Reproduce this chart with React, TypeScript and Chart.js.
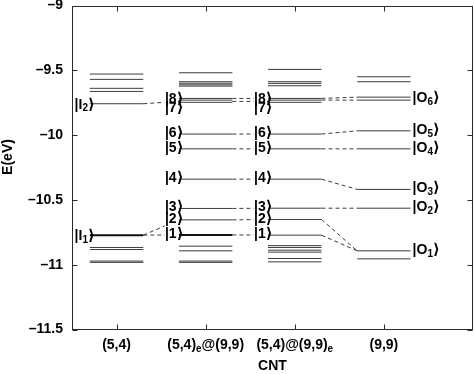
import React, { useEffect, useRef } from 'react';
import { Chart, registerables } from 'chart.js';

Chart.register(...registerables);

// ---------- data ----------
const categories = ['(5,4)', '(5,4)_e@(9,9)', '(5,4)@(9,9)_e', '(9,9)'];
const xTitle = 'CNT';
const yTitle = 'E(eV)';
const yMin = -11.5;
const yMax = -9;
const yStep = 0.5;

// energy levels (eV) of each column
const levels54 = [-9.529, -9.570, -9.639, -9.663, -9.758, -10.772, -10.867, -10.883, -10.972, -10.982];
const levelsE54 = [-9.519, -9.588, -9.600, -9.612, -9.622, -9.717, -9.730, -9.747, -9.992, -10.106, -10.340, -10.566, -10.654, -10.770, -10.857, -10.893, -10.972, -10.982];
const levelsE99 = [-9.493, -9.588, -9.601, -9.619, -9.717, -9.730, -9.747, -9.992, -10.106, -10.340, -10.564, -10.651, -10.772, -10.853, -10.867, -10.888, -10.903, -10.952, -10.978];
const levels99 = [-9.550, -9.588, -9.707, -9.730, -9.967, -10.106, -10.419, -10.564, -10.893, -10.955];

// highlighted (bold) states
const boldLevels54 = [-10.772];
const boldLevelsE54 = [-10.770];

// state labels
const kets54 = ['I_2', 'I_1'];
const ketE54 = [-9.758, -10.772];
const ketsMid = ['8', '7', '6', '5', '4', '3', '2', '1'];
const ketEMid = [-9.717, -9.747, -9.992, -10.106, -10.340, -10.566, -10.654, -10.770];
const kets99 = ['O_6', 'O_5', 'O_4', 'O_3', 'O_2', 'O_1'];
const ketE99 = [-9.72, -9.967, -10.106, -10.419, -10.564, -10.893];

// dashed correlation lines between neighbouring columns
const link1From = [-9.758, -10.772, -10.772];
const link1To = [-9.740, -10.654, -10.770];
const link2From = [-9.717, -9.740, -9.992, -10.106, -10.340, -10.566, -10.654, -10.770];
const link2To = [-9.717, -9.740, -9.992, -10.106, -10.340, -10.564, -10.651, -10.772];
const link3From = [-9.717, -9.730, -9.992, -10.106, -10.340, -10.564, -10.651, -10.772];
const link3To = [-9.707, -9.730, -9.967, -10.106, -10.419, -10.564, -10.893, -10.893];

// ---------- styling ----------
const FF = "'Liberation Sans', 'DejaVu Sans', Arial, sans-serif";
const HW = 0.3; // half width of a level line (x units)
const LABEL_GAP = 0.16; // room for left-side labels (x units)
const LEVEL_COLOR = '#3c3c3c';
const DARK = '#111';
const FRAME = '#2a2a2a';

function levelDataset(col: number, E: number, color: string, width: number) {
  return {
    data: [{ x: col - HW, y: E }, { x: col + HW, y: E }],
    showLine: true,
    borderColor: color,
    borderWidth: width,
    pointRadius: 0,
    pointHoverRadius: 0,
    fill: false,
  };
}

function linkDataset(c1: number, c2: number, from: number, to: number, leftLabels: boolean) {
  const x0 = c1 + HW;
  const x1full = c2 - HW;
  const x1 = leftLabels ? c2 - HW - LABEL_GAP : x1full;
  const yEnd = from + ((to - from) * (x1 - x0)) / (x1full - x0);
  return {
    data: [{ x: x0, y: from }, { x: x1, y: yEnd }],
    showLine: true,
    borderColor: LEVEL_COLOR,
    borderWidth: 1,
    borderDash: [4, 3],
    pointRadius: 0,
    pointHoverRadius: 0,
    fill: false,
  };
}

function buildDatasets() {
  const ds: any[] = [];
  const cols = [levels54, levelsE54, levelsE99, levels99];
  cols.forEach((lv, i) => {
    lv.forEach((E) => {
      const bold = (i === 0 && boldLevels54.includes(E)) || (i === 1 && boldLevelsE54.includes(E));
      ds.push(levelDataset(i + 1, E, bold ? DARK : LEVEL_COLOR, bold ? 2 : 1));
    });
  });
  link1From.forEach((f, k) => ds.push(linkDataset(1, 2, f, link1To[k], true)));
  link2From.forEach((f, k) => ds.push(linkDataset(2, 3, f, link2To[k], true)));
  link3From.forEach((f, k) => ds.push(linkDataset(3, 4, f, link3To[k], false)));
  return ds;
}

function drawKet(ctx: CanvasRenderingContext2D, x: number, y: number, label: string, align: 'left' | 'right') {
  const [name, sub] = label.split('_');
  const main = `bold 14px ${FF}`;
  const small = `bold 10px ${FF}`;
  const ang = `bold 15px 'DejaVu Sans', sans-serif`;
  ctx.font = main;
  const wBar = ctx.measureText('|').width;
  const wName = ctx.measureText(name).width;
  ctx.font = ang;
  const wAng = ctx.measureText('\u27E9').width;
  ctx.font = small;
  const wSub = sub ? ctx.measureText(sub).width : 0;
  const total = wBar + wName + wSub + wAng;
  let cx = align === 'right' ? x - total : x;
  ctx.textAlign = 'left';
  ctx.textBaseline = 'middle';
  ctx.fillStyle = '#000';
  ctx.font = main;
  ctx.fillText('|', cx, y);
  cx += wBar;
  ctx.fillText(name, cx, y);
  cx += wName;
  if (sub) {
    ctx.font = small;
    ctx.fillText(sub, cx, y + 4);
    cx += wSub;
  }
  ctx.font = ang;
  ctx.fillText('\u27E9', cx, y);
}

function drawRich(ctx: CanvasRenderingContext2D, text: string, cx: number, y: number) {
  const parts = text.split(/_(.)/);
  const main = `bold 14px ${FF}`;
  const small = `bold 10px ${FF}`;
  const widths = parts.map((p, i) => {
    ctx.font = i % 2 ? small : main;
    return ctx.measureText(p).width;
  });
  const total = widths.reduce((a, b) => a + b, 0);
  let x = cx - total / 2;
  ctx.textAlign = 'left';
  ctx.textBaseline = 'middle';
  ctx.fillStyle = '#000';
  parts.forEach((p, i) => {
    ctx.font = i % 2 ? small : main;
    ctx.fillText(p, x, i % 2 ? y + 4 : y);
    x += widths[i];
  });
}

const decorPlugin = {
  id: 'decor',
  afterDraw(chart: any) {
    const ctx: CanvasRenderingContext2D = chart.ctx;
    const xs = chart.scales.x;
    const ys = chart.scales.y;
    const a = chart.chartArea;
    ctx.save();
    // frame
    ctx.strokeStyle = FRAME;
    ctx.lineWidth = 1;
    const L = Math.round(a.left) + 0.5;
    const R = Math.round(a.right) - 0.5;
    const T = Math.round(a.top) + 0.5;
    const B = Math.round(a.bottom) - 0.5;
    ctx.strokeRect(L, T, R - L, B - T);
    // inward ticks
    ctx.beginPath();
    for (let v = yMax; v >= yMin - 1e-9; v -= yStep) {
      const py = Math.round(ys.getPixelForValue(v)) + 0.5;
      ctx.moveTo(L, py);
      ctx.lineTo(L + 5, py);
      ctx.moveTo(R, py);
      ctx.lineTo(R - 5, py);
    }
    categories.forEach((_, i) => {
      const px = Math.round(xs.getPixelForValue(i + 1)) + 0.5;
      ctx.moveTo(px, B);
      ctx.lineTo(px, B - 5);
      ctx.moveTo(px, T);
      ctx.lineTo(px, T + 5);
    });
    ctx.stroke();
    // x category labels
    categories.forEach((c, i) => drawRich(ctx, c, xs.getPixelForValue(i + 1), 345));
    // axis titles
    ctx.fillStyle = '#000';
    ctx.font = `bold 14px ${FF}`;
    ctx.textAlign = 'center';
    ctx.textBaseline = 'middle';
    ctx.fillText(xTitle, (a.left + a.right) / 2, 366);
    ctx.save();
    ctx.translate(8, 157);
    ctx.rotate(-Math.PI / 2);
    ctx.fillText(yTitle, 0, 0);
    ctx.restore();
    // state labels
    kets54.forEach((k, i) => {
      drawKet(ctx, xs.getPixelForValue(1 - HW) + 5, ys.getPixelForValue(ketE54[i]) + 1, k, 'right');
    });
    const midOffsets: Record<string, number> = { '8': 1, '7': 6 };
    ketsMid.forEach((k, i) => {
      const off = midOffsets[k] ?? -1;
      const py = ys.getPixelForValue(ketEMid[i]) + off;
      drawKet(ctx, xs.getPixelForValue(2 - HW) - 14, py, k, 'left');
      drawKet(ctx, xs.getPixelForValue(3 - HW) - 14, py, k, 'left');
    });
    kets99.forEach((k, i) => {
      drawKet(ctx, xs.getPixelForValue(4 + HW) + 2, ys.getPixelForValue(ketE99[i]) - 1, k, 'left');
    });
    ctx.restore();
  },
};

export default function App() {
  const ref = useRef<HTMLCanvasElement | null>(null);
  useEffect(() => {
    if (!ref.current) return;
    const chart = new Chart(ref.current, {
      type: 'scatter',
      data: { datasets: buildDatasets() },
      options: {
        animation: false,
        responsive: false,
        devicePixelRatio: 1,
        layout: { padding: { top: 5.5, right: 1, left: 0, bottom: 0 } },
        plugins: { legend: { display: false }, tooltip: { enabled: false }, title: { display: false } },
        events: [],
        scales: {
          x: {
            type: 'linear',
            min: 0.5,
            max: 5,
            grid: { display: false, drawTicks: false },
            border: { display: false },
            ticks: { display: false },
            afterFit: (s: any) => {
              s.height = 44.5;
              s.paddingLeft = 0;
              s.paddingRight = 0;
            },
          },
          y: {
            type: 'linear',
            min: yMin,
            max: yMax,
            grid: { display: false, drawTicks: false },
            border: { display: false },
            ticks: {
              stepSize: yStep,
              padding: 9,
              color: '#000',
              font: { family: FF, size: 14, weight: 'bold' },
              callback: (v: any) => (Number(v) < 0 ? '\u2013' : '') + Math.abs(Number(v)),
            },
            afterFit: (s: any) => {
              s.width = 72;
              s.paddingTop = 0;
              s.paddingBottom = 0;
            },
          },
        },
      },
      plugins: [decorPlugin],
    } as any);
    return () => chart.destroy();
  }, []);
  return (
    <div style={{ position: 'absolute', left: 0, top: 0, width: 474, height: 374, background: '#fff' }}>
      <canvas ref={ref} width={474} height={374} style={{ display: 'block' }} />
    </div>
  );
}
